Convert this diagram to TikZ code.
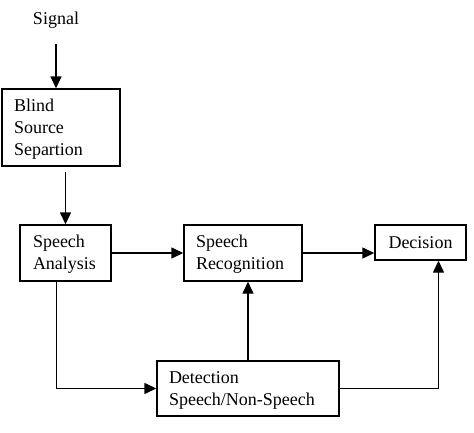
\documentclass[tikz,border=0pt]{standalone}
\usepackage{fontspec}
\setmainfont{Liberation Serif}
\usetikzlibrary{arrows.meta}
\begin{document}
\begin{tikzpicture}[x=1pt,y=-1pt,
  every node/.style={font=\fontsize{18}{22}\selectfont},
  blk/.style={draw,line width=1.4pt,rectangle,align=left,inner ysep=0pt},
  arr/.style={line width=1.4pt,-{Triangle[length=12pt,width=11pt]}}]
\useasboundingbox (0,0) rectangle (474,432);
\node (sig) at (56,20) {Signal};
\node[blk,inner xsep=12pt,text width=94pt,minimum height=77pt] (bss) at (61,127.5) {\strut Blind\\Source\\Separtion};
\node[blk,inner xsep=13pt,text width=65pt,minimum height=56pt] (sa) at (65.5,253) {\strut Speech\\Analysis};
\node[blk,inner xsep=12pt,text width=94pt,minimum height=56pt] (sr) at (243,253) {\strut Speech\\Recognition};
\node[blk,align=center,minimum width=91pt,minimum height=35pt,inner xsep=0pt] (dec) at (420.5,242.5) {Decision};
\node[blk,inner xsep=12pt,text width=158pt,minimum height=55pt] (det) at (248,388.5) {\strut Detection\\Speech/Non-Speech};
\coordinate (sigout) at ([yshift=-12pt]sig.south);
\coordinate (bssout) at ([yshift=-5pt]bss.south -| sa.north);
\coordinate (saout) at ([xshift=-9pt]sa.south);
\coordinate (decin) at ([xshift=18pt]dec.south);
\draw[arr] (sigout) -- (sigout |- bss.north);
\draw[arr] (bssout) -- (sa.north);
\draw[arr] (sa.east) -- (sr.west);
\draw[arr] (sr.east) -- (sr.east -| dec.west);
\draw[arr] (det.north) -- (det.north |- sr.south);
\draw[arr] (saout) |- (det.west);
\draw[arr] (det.east) -| (decin);
\end{tikzpicture}
\end{document}
